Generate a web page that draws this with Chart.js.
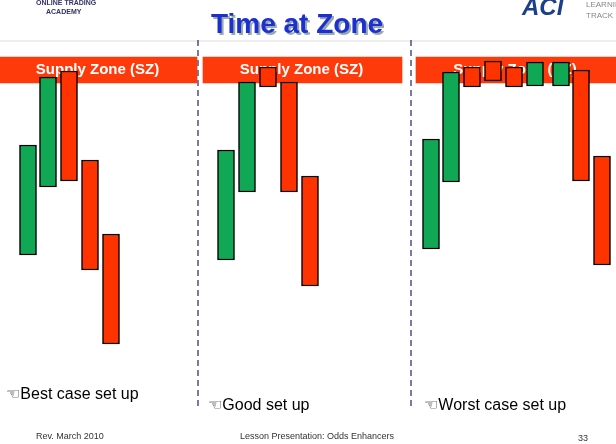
<!DOCTYPE html>
<html><head><meta charset="utf-8">
<script src="https://cdn.jsdelivr.net/npm/chart.js@4"></script>
<style>html,body{margin:0;padding:0;background:#fff}#w{width:616px;height:444px}</style>
</head><body><div id="w"><canvas id="c"></canvas></div>
<script>
// Candle data: x position, [top, bottom] in slide units (y grows downward)
const greenX = [28, 48, 226, 247, 431, 451, 535, 561];
const greenY = [[145,255],[77,187],[150,260],[82,192],[139,249],[72,182],[62,86],[62,86]];
const redX = [69, 90, 111, 268, 289, 310, 472, 493, 514, 581, 602];
const redY = [[71,181],[160,270],[234,344],[67,87],[82,192],[176,286],[67,87],[61,81],[67,87],[70,181],[156,265]];
const zoneX = [98.5, 302.5, 516];
const zoneW = [197, 199, 200];
const zoneY = [57, 83];
const zoneLabels = ["Supply Zone (SZ)","Supply Zone (SZ)","Supply Zone (SZ)"];
const captions = ["☜Best case set up","☜Good set up","☜Worst case set up"];
const captionX = [6, 208, 424];
const captionY = [395, 406, 406];

const pts=(xs,ys)=>xs.map((x,i)=>({x:x,y:ys[i]}));
const deco={id:'deco',
 beforeDatasetsDraw(ch){const c=ch.ctx,xs=ch.scales.x,ys=ch.scales.y;
  c.save();c.strokeStyle='#ddd';c.lineWidth=1;c.beginPath();c.moveTo(0,ys.getPixelForValue(41));c.lineTo(616,ys.getPixelForValue(41));c.stroke();
  c.strokeStyle='#33337a';c.setLineDash([6,4]);c.lineWidth=1.3;
  [198,411].forEach(x=>{c.beginPath();c.moveTo(xs.getPixelForValue(x),ys.getPixelForValue(40));c.lineTo(xs.getPixelForValue(x),ys.getPixelForValue(410));c.stroke();});
  c.restore();}};
const textPlug={id:'txt',afterDraw(ch){const c=ch.ctx,xs=ch.scales.x,ys=ch.scales.y;c.save();
  c.textBaseline='middle';
  c.font='bold 28px Arial, "Liberation Sans", sans-serif';c.textAlign='center';
  c.fillStyle='#9aa';c.fillText('Time at Zone',xs.getPixelForValue(299),ys.getPixelForValue(27));
  c.fillStyle='#1c2fd0';c.fillText('Time at Zone',xs.getPixelForValue(297),ys.getPixelForValue(25));
  c.font='16px Arial, "Liberation Sans", "DejaVu Sans", sans-serif';c.textAlign='left';c.fillStyle='#000';
  captions.forEach((t,i)=>c.fillText(t,xs.getPixelForValue(captionX[i]),ys.getPixelForValue(captionY[i])));
  c.font='9px Arial, "Liberation Sans", sans-serif';c.fillStyle='#333';
  c.fillText('Rev. March 2010',36,437);c.fillText('Lesson Presentation: Odds Enhancers',240,437);c.fillText('33',578,439);
  c.font='bold 7px Arial';c.fillStyle='#336';c.fillText('ONLINE TRADING',36,3);c.fillText('ACADEMY',46,12);
  c.font='bold italic 24px Arial';c.fillStyle='#1c3f8a';c.fillText('ACI',522,8);
  c.font='8px Arial';c.fillStyle='#888';c.fillText('LEARNING',586,5);c.fillText('TRACK',586,16);
  c.restore();}};
const zonePlug={id:'zt',beforeDatasetDraw(ch,a){if(a.index!==4)return;const c=ch.ctx,xs=ch.scales.x,ys=ch.scales.y;c.save();
  c.font='bold 15px Arial, "Liberation Sans", sans-serif';c.fillStyle='#fff';c.textAlign='center';c.textBaseline='middle';
  zoneX.forEach((x,i)=>c.fillText(zoneLabels[i],xs.getPixelForValue(x-1),ys.getPixelForValue(70)));c.restore();}};
const zoneSets=zoneX.map((x,i)=>({data:[{x:x,y:zoneY}],backgroundColor:'#ff3a0a',borderWidth:0,barThickness:zoneW[i],grouped:false,order:3}));
new Chart(document.getElementById('c'),{type:'bar',
 data:{datasets:[...zoneSets,
  {data:pts(greenX,greenY),backgroundColor:'#10a855',borderColor:'#000',borderWidth:1.5,borderSkipped:false,barThickness:17,grouped:false,order:1},
  {data:pts(redX,redY),backgroundColor:'#ff3300',borderColor:'#000',borderWidth:1.5,borderSkipped:false,barThickness:17,grouped:false,order:2}
 ]},
 options:{responsive:true,maintainAspectRatio:false,animation:false,layout:{padding:0},
  plugins:{legend:{display:false},tooltip:{enabled:false}},
  scales:{x:{type:'linear',min:0,max:616,offset:false,display:false},y:{min:0,max:444,reverse:true,display:false}}},
 plugins:[deco,zonePlug,textPlug]});
</script></body></html>
